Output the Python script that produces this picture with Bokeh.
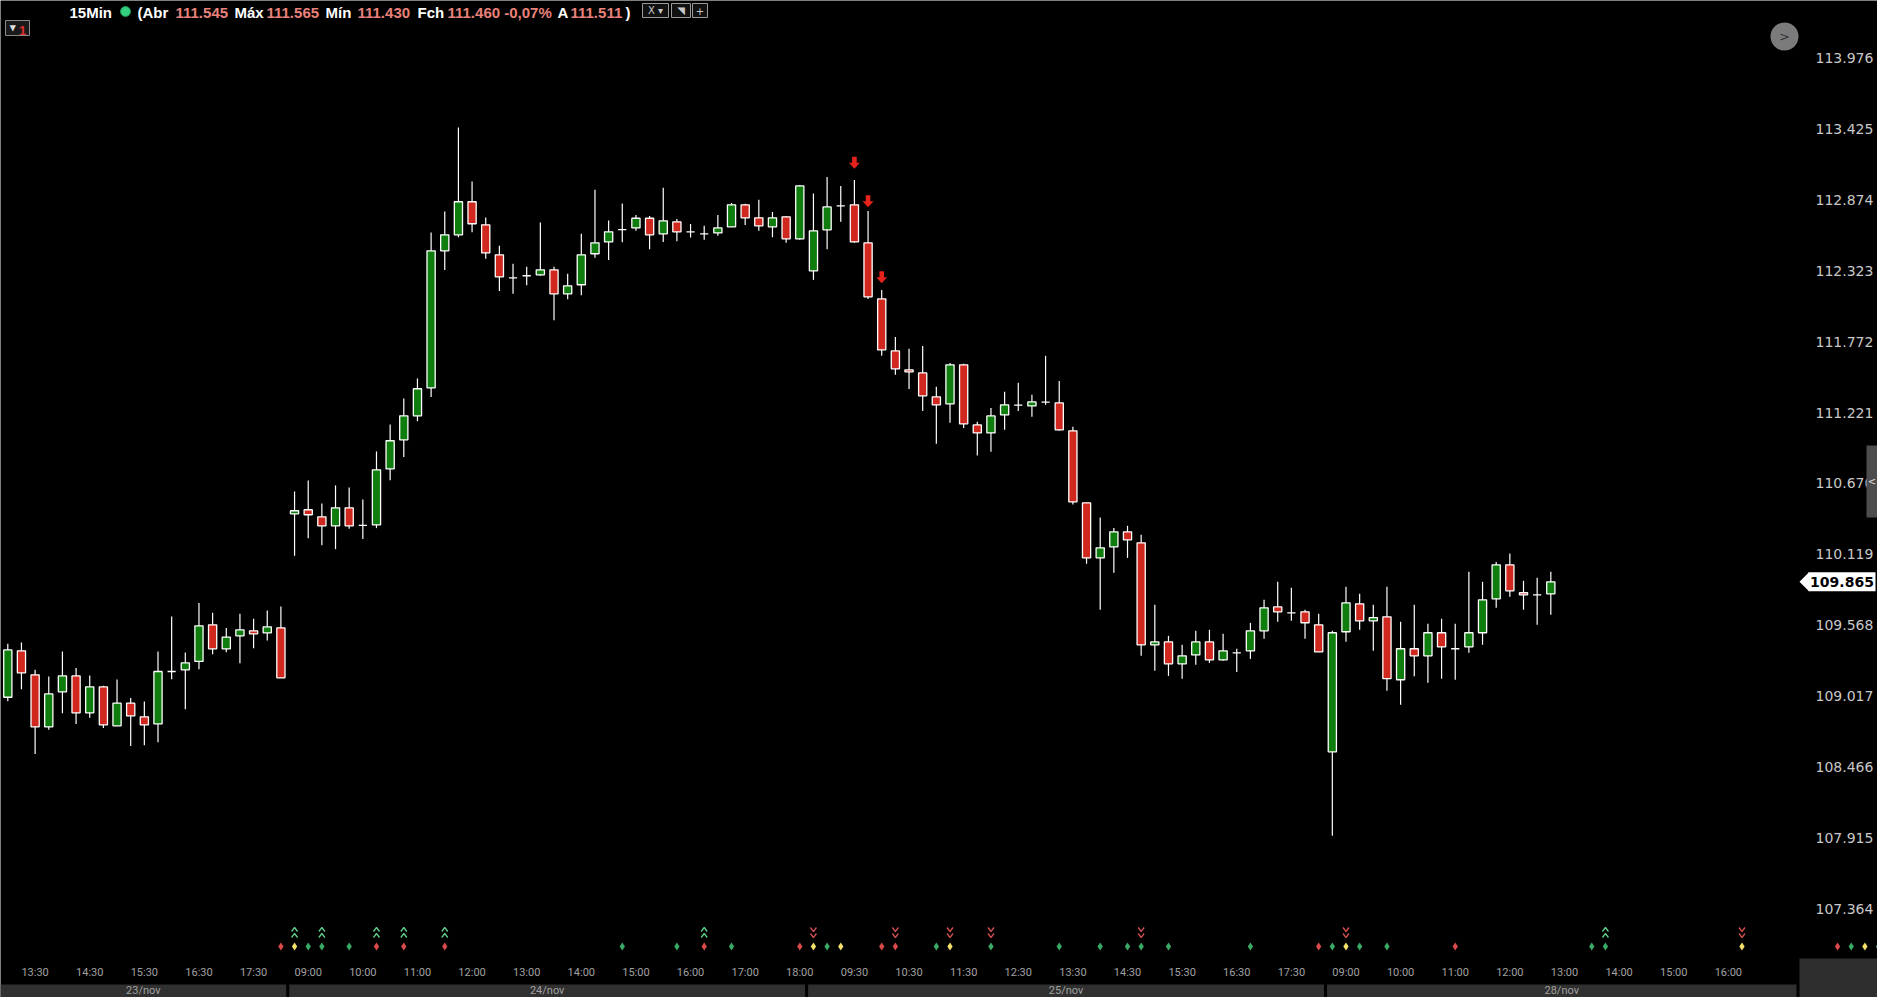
import numpy as np
from bokeh.plotting import figure
from bokeh.models import (ColumnDataSource, Range1d, FixedTicker, LinearAxis,
                          PrintfTickFormatter)
from bokeh.core.properties import value
from bokeh.embed import file_html
from bokeh.resources import INLINE

# ---------------- data ----------------
day_labels = ["23/nov", "24/nov", "25/nov", "28/nov"]
day_starts = ["13:00", "08:45", "08:45", "08:45"]
day_counts = [21, 38, 38, 17]

opens = [
    109.009, 109.370, 109.183, 108.779, 109.051, 109.175, 108.888, 109.090, 108.787, 108.963,
    108.857, 108.802, 109.209, 109.222, 109.287, 109.572, 109.385, 109.486, 109.525, 109.509,
    109.548,
    110.434, 110.466, 110.411, 110.341, 110.481, 110.344, 110.349, 110.784, 111.009, 111.196,
    111.413, 112.478, 112.602, 112.859, 112.680, 112.447, 112.268, 112.284, 112.291, 112.330,
    112.144, 112.214, 112.455, 112.547, 112.643, 112.656, 112.731, 112.610, 112.703, 112.625,
    112.610, 112.617, 112.664, 112.835, 112.734, 112.664, 112.742, 112.571,
    112.322, 112.641, 112.827, 112.835, 112.540, 112.104, 111.700, 111.553, 111.529, 111.343,
    111.289, 111.592, 111.125, 111.063, 111.203, 111.279, 111.273, 111.302, 111.296, 111.079,
    110.520, 110.092, 110.178, 110.294, 110.209, 109.416, 109.439, 109.269, 109.338, 109.439,
    109.300, 109.354, 109.370, 109.525, 109.711, 109.665, 109.673, 109.572,
    108.585, 109.518, 109.735, 109.603, 109.634, 109.145, 109.386, 109.331, 109.510, 109.386,
    109.401, 109.510, 109.774, 110.038, 109.821, 109.805, 109.813,
]
highs = [
    109.424, 109.434, 109.222, 109.170, 109.364, 109.237, 109.178, 109.098, 109.147, 109.004,
    108.976, 109.364, 109.636, 109.357, 109.742, 109.665, 109.548, 109.657, 109.618, 109.683,
    109.714,
    110.608, 110.693, 110.515, 110.655, 110.639, 110.546, 110.919, 111.129, 111.331, 111.486,
    112.620, 112.784, 113.436, 113.017, 112.737, 112.517, 112.377, 112.354, 112.698, 112.354,
    112.299, 112.610, 112.952, 112.713, 112.845, 112.757, 112.749, 112.967, 112.726, 112.687,
    112.672, 112.757, 112.850, 112.843, 112.874, 112.780, 112.749, 112.990,
    112.923, 113.052, 112.982, 113.029, 112.788, 112.174, 111.809, 111.716, 111.739, 111.421,
    111.607, 111.600, 111.149, 111.257, 111.382, 111.452, 111.359, 111.662, 111.467, 111.110,
    110.520, 110.406, 110.325, 110.341, 110.271, 109.727, 109.486, 109.416, 109.525, 109.533,
    109.502, 109.385, 109.587, 109.766, 109.906, 109.859, 109.689, 109.658,
    109.525, 109.867, 109.813, 109.728, 109.867, 109.595, 109.728, 109.580, 109.619, 109.580,
    109.984, 109.906, 110.059, 110.126, 109.914, 109.937, 109.984,
]
lows = [
    108.978, 109.072, 108.569, 108.756, 108.885, 108.802, 108.849, 108.771, 108.787, 108.631,
    108.637, 108.660, 109.149, 108.916, 109.227, 109.344, 109.359, 109.274, 109.390, 109.450,
    109.160,
    110.108, 110.245, 110.191, 110.160, 110.318, 110.238, 110.323, 110.696, 110.875, 111.154,
    111.341, 112.328, 112.584, 112.623, 112.416, 112.165, 112.144, 112.211, 112.284, 111.939,
    112.102, 112.133, 112.424, 112.407, 112.545, 112.633, 112.490, 112.547, 112.553, 112.581,
    112.563, 112.594, 112.664, 112.679, 112.633, 112.584, 112.540, 112.563,
    112.252, 112.490, 112.703, 112.540, 112.104, 111.662, 111.514, 111.405, 111.234, 110.978,
    111.141, 111.102, 110.888, 110.917, 111.087, 111.234, 111.188, 111.281, 111.079, 110.507,
    110.046, 109.688, 109.976, 110.092, 109.331, 109.214, 109.175, 109.152, 109.261, 109.276,
    109.292, 109.206, 109.307, 109.463, 109.595, 109.603, 109.463, 109.362,
    107.933, 109.440, 109.533, 109.370, 109.059, 108.951, 109.173, 109.121, 109.153, 109.145,
    109.355, 109.417, 109.704, 109.790, 109.689, 109.572, 109.650,
]
closes = [
    109.377, 109.199, 108.779, 109.035, 109.175, 108.888, 109.090, 108.795, 108.963, 108.864,
    108.795, 109.209, 109.209, 109.276, 109.564, 109.385, 109.476, 109.533, 109.502, 109.556,
    109.160,
    110.458, 110.427, 110.341, 110.481, 110.341, 110.344, 110.776, 111.002, 111.196, 111.406,
    112.478, 112.602, 112.859, 112.688, 112.462, 112.276, 112.268, 112.284, 112.330, 112.144,
    112.206, 112.447, 112.540, 112.625, 112.643, 112.731, 112.602, 112.711, 112.625, 112.625,
    112.610, 112.656, 112.835, 112.734, 112.672, 112.734, 112.571, 112.982,
    112.633, 112.819, 112.827, 112.547, 112.120, 111.708, 111.561, 111.537, 111.351, 111.281,
    111.592, 111.133, 111.063, 111.195, 111.281, 111.279, 111.304, 111.302, 111.087, 110.527,
    110.092, 110.170, 110.294, 110.232, 109.416, 109.439, 109.269, 109.331, 109.439, 109.300,
    109.370, 109.354, 109.525, 109.704, 109.673, 109.665, 109.588, 109.362,
    109.510, 109.743, 109.603, 109.627, 109.153, 109.386, 109.331, 109.510, 109.401, 109.386,
    109.510, 109.766, 110.038, 109.836, 109.805, 109.805, 109.906,
]

# time-axis labels per day (placed on the matching 15-minute slot)
time_ticks = [
    ["13:30", "14:30", "15:30", "16:30", "17:30"],
    ["09:00", "10:00", "11:00", "12:00", "13:00", "14:00", "15:00", "16:00", "17:00", "18:00"],
    ["09:30", "10:30", "11:30", "12:30", "13:30", "14:30", "15:30", "16:30", "17:30"],
    ["09:00", "10:00", "11:00", "12:00", "13:00", "14:00", "15:00", "16:00"],
]

price_ticks = [107.364, 107.915, 108.466, 109.017, 109.568, 110.119, 110.670,
               111.221, 111.772, 112.323, 112.874, 113.425, 113.976]

# signal markers under the chart (slot index, kind)
dot_slots = [20, 21, 22, 23, 25, 27, 29, 32, 45, 49, 51, 53, 58, 59, 60, 61, 64, 65, 68, 69,
             72, 77, 80, 82, 83, 85, 91, 96, 97, 98, 99, 101, 106, 116, 117, 127, 134, 135, 136, 137]
dot_kinds = ["r", "y", "g", "g", "g", "r", "r", "r", "g", "g", "r", "g", "r", "y", "g", "y", "r", "r", "g", "y",
             "g", "g", "g", "g", "g", "g", "g", "r", "g", "y", "g", "g", "r", "g", "g", "y", "r", "g", "y", "g"]
chev_up_slots = [21, 23, 27, 29, 32, 51, 117]
chev_down_slots = [59, 65, 69, 72, 83, 98, 127]

# sell-signal arrows (slot, price level of arrow tip)
arrow_slots = [62, 63, 64]
arrow_prices = [113.115, 112.817, 112.226]

hdr_period = "15Min"
hdr_open, hdr_high, hdr_low = "111.545", "111.565", "111.430"
hdr_close_chg, hdr_avg = "111.460 -0,07%", "111.511"
last_price_text = "109.865"

# ---------------- layout constants (pixels) ----------------
W, H = 1877, 997
AXIS_X = 1800
SLOT_PX = 13.655
FIRST_FX = 7.3
PPU = 128.7
REF_PRICE, REF_FY = 113.976, 57.5


def xd(fx):
    return (fx - FIRST_FX) / SLOT_PX


def yd(fy):
    return REF_PRICE - (fy - REF_FY) / PPU


def fy_of(price):
    return REF_FY + (REF_PRICE - price) * PPU


def dxp(px):
    return px / SLOT_PX


def dyp(px):
    return px / PPU


def tmin(s):
    h, m = s.split(":")
    return int(h) * 60 + int(m)


day_offsets = np.concatenate([[0], np.cumsum(day_counts)[:-1]])


def slot_of(di, t):
    return int(day_offsets[di] + (tmin(t) - tmin(day_starts[di])) // 15)


GREEN, RED = "#0e7d0e", "#d0281e"
n = len(opens)
colors = [GREEN if c > o else (RED if c < o else "#ffffff") for o, c in zip(opens, closes)]
src = ColumnDataSource(dict(
    x=list(range(n)), high=highs, low=lows,
    top=[max(o, c) for o, c in zip(opens, closes)],
    bottom=[min(o, c) for o, c in zip(opens, closes)],
    color=colors))

p = figure(width=W, height=H, output_backend="svg", toolbar_location=None,
           x_range=Range1d(xd(0), xd(W)), y_range=Range1d(yd(H), yd(0)),
           x_axis_location=None, y_axis_location=None,
           background_fill_color="#000000", border_fill_color="#000000",
           outline_line_color=None, min_border=0, min_border_left=0, min_border_top=0,
           min_border_bottom=0, min_border_right=0)
p.xgrid.visible = False
p.ygrid.visible = False

# price axis, drawn inside the frame at the chart's right edge
ax = LinearAxis(fixed_location=xd(AXIS_X))
ax.ticker = FixedTicker(ticks=price_ticks)
ax.formatter = PrintfTickFormatter(format="%.3f")
ax.major_label_text_color = "#c8c8c8"
ax.major_label_text_font = "DejaVu Sans"
ax.major_label_text_font_size = "14px"
ax.axis_line_color = None
ax.major_tick_line_color = None
ax.minor_tick_line_color = None
ax.major_tick_out = 0
ax.major_tick_in = 0
ax.major_label_standoff = 15
p.add_layout(ax, "right")

NARROW = value("Liberation Sans Narrow, Roboto, sans-serif")

# date band at the bottom
bounds = [xd(0)] + [o - 0.5 for o in day_offsets[1:]] + [xd(1796)]
gap = dxp(1.5)
band_left = [bounds[i] + (gap if i > 0 else 0) for i in range(len(day_labels))]
band_right = [bounds[i + 1] - (gap if i < len(day_labels) - 1 else 0) for i in range(len(day_labels))]
p.quad(left=band_left, right=band_right, top=yd(984), bottom=yd(H), fill_color="#303030", line_color=None)
p.quad(left=[xd(1799)], right=[xd(W)], top=[yd(958)], bottom=[yd(H)], fill_color="#2e2e2e", line_color=None)
p.text(x=[(a + b) / 2 for a, b in zip(band_left, band_right)], y=yd(990), text=day_labels,
       text_align="center", text_baseline="middle", text_color="#a0a0a0",
       text_font=NARROW, text_font_size="11px")

# time labels
tick_x, tick_t = [], []
for di, lst in enumerate(time_ticks):
    for t in lst:
        tick_x.append(slot_of(di, t))
        tick_t.append(t)
p.text(x=tick_x, y=yd(972), text=tick_t, text_align="center", text_baseline="middle",
       text_color="#a0a0a0", text_font=NARROW, text_font_size="11px")

# candles
p.segment(x0="x", y0="low", x1="x", y1="high", source=src, line_color="#ffffff", line_width=1.2)
p.vbar(x="x", top="top", bottom="bottom", width=0.6, fill_color="color",
       line_color="#ffffff", line_width=1.3, source=src)

# sell arrows
axs, ays = [], []
for s, pb in zip(arrow_slots, arrow_prices):
    axs.append([s - dxp(2.3), s + dxp(2.3), s + dxp(2.3), s + dxp(5.5), s, s - dxp(5.5), s - dxp(2.3)])
    ays.append([pb + dyp(12), pb + dyp(12), pb + dyp(6), pb + dyp(6), pb, pb + dyp(6), pb + dyp(6)])
p.patches(xs=axs, ys=ays, fill_color="#e8231b", line_color=None)

# bottom signal markers
kind_col = {"r": "#d94a4a", "g": "#3aaa66", "y": "#f2e06a"}
p.scatter(x=dot_slots, y=yd(946), marker="diamond", size=8,
          fill_color=[kind_col[k] for k in dot_kinds], line_color=None)
cxs, cys, ccol = [], [], []
for s in chev_up_slots:
    for cy in (929, 935):
        cxs.append([s - dxp(3), s, s + dxp(3)])
        cys.append([yd(cy + 2), yd(cy - 2), yd(cy + 2)])
        ccol.append("#5fcf8a")
for s in chev_down_slots:
    for cy in (929, 935):
        cxs.append([s - dxp(3), s, s + dxp(3)])
        cys.append([yd(cy - 2), yd(cy + 2), yd(cy - 2)])
        ccol.append("#d05050")
p.multi_line(xs=cxs, ys=cys, line_color=ccol, line_width=1.3)

# last price tag on the axis
lc_y = fy_of(closes[-1])
p.quad(left=[xd(1808)], right=[xd(1875)], top=[yd(lc_y - 9.5)], bottom=[yd(lc_y + 9.5)],
       fill_color="#ffffff", line_color=None)
p.patch(x=[xd(1799), xd(1808.5), xd(1808.5)], y=[yd(lc_y), yd(lc_y - 9.5), yd(lc_y + 9.5)],
        fill_color="#ffffff", line_color=None)
p.text(x=[xd(1841.5)], y=[yd(lc_y)], text=[last_price_text], text_align="center",
       text_baseline="middle", text_color="#000000", text_font=value("DejaVu Sans"),
       text_font_size="14px", text_font_style="bold")

# side tab "<" on the right edge (drawn over the axis labels)
p.quad(left=[xd(1866)], right=[xd(W)], top=[yd(445)], bottom=[yd(517)], fill_color="#4d4d4d",
       line_color=None, level="overlay")
p.text(x=[xd(1871.5)], y=[yd(481)], text=["<"], text_align="center", text_baseline="middle",
       text_color="#dddddd", text_font=value("DejaVu Sans"), text_font_size="10px", level="overlay")

# round ">" button top-right
p.scatter(x=[xd(1784)], y=[yd(36)], marker="circle", size=28, fill_color="#7b7b7b", line_color=None)
p.text(x=[xd(1784)], y=[yd(36)], text=[">"], text_align="center", text_baseline="middle",
       text_color="#333333", text_font=value("DejaVu Sans"), text_font_size="13px")

# header line
HFONT = value("Liberation Sans")
SAL, WH = "#e9827a", "#ffffff"
hdr_items = [(hdr_period, 69, WH), ("(Abr", 137, WH), (hdr_open, 175, SAL), ("M\u00e1x", 234, WH),
             (hdr_high, 266, SAL), ("M\u00edn", 325, WH), (hdr_low, 357, SAL), ("Fch", 417, WH),
             (hdr_close_chg, 447, SAL), ("A", 557, WH), (hdr_avg, 570, SAL), (")", 625, WH)]
p.text(x=[xd(fx) for _, fx, _ in hdr_items], y=yd(12), text=[t for t, _, _ in hdr_items],
       text_color=[c for _, _, c in hdr_items], text_font=HFONT, text_font_size="15px",
       text_font_style="bold", text_align="left", text_baseline="middle")
p.scatter(x=[xd(125)], y=[yd(11)], marker="circle", size=10, fill_color="#35d07f",
          line_color="#1f8f50", line_width=1)

# small header buttons
btn_l, btn_r = [642, 671, 692], [668, 690, 707]
p.quad(left=[xd(v) for v in btn_l], right=[xd(v) for v in btn_r], top=yd(3), bottom=yd(17),
       fill_color="#111111", line_color="#9a9a9a", line_width=1)
p.text(x=[xd((a + b) / 2) for a, b in zip(btn_l, btn_r)], y=yd(10), text=["X \u25be", "\u25e5", "+"],
       text_align="center", text_baseline="middle", text_color="#c8c8c8",
       text_font=value("DejaVu Sans"), text_font_size="10px")

# small "▾1" box top-left
p.quad(left=[xd(5)], right=[xd(29)], top=[yd(20)], bottom=[yd(35)], fill_color="#1a1a1a",
       line_color="#8a8a8a", line_width=1)
p.text(x=[xd(12), xd(22)], y=[yd(26), yd(30)], text=["\u25be", "1"], text_align="center",
       text_baseline="middle", text_color=["#dddddd", "#e03030"], text_font=HFONT,
       text_font_size=["11px", "13px"], text_font_style="bold")

html = file_html(p, INLINE)
html = html.replace("<body>", "<body style=\"background:#000000;\">", 1)
open("out.html", "w").write(html)
